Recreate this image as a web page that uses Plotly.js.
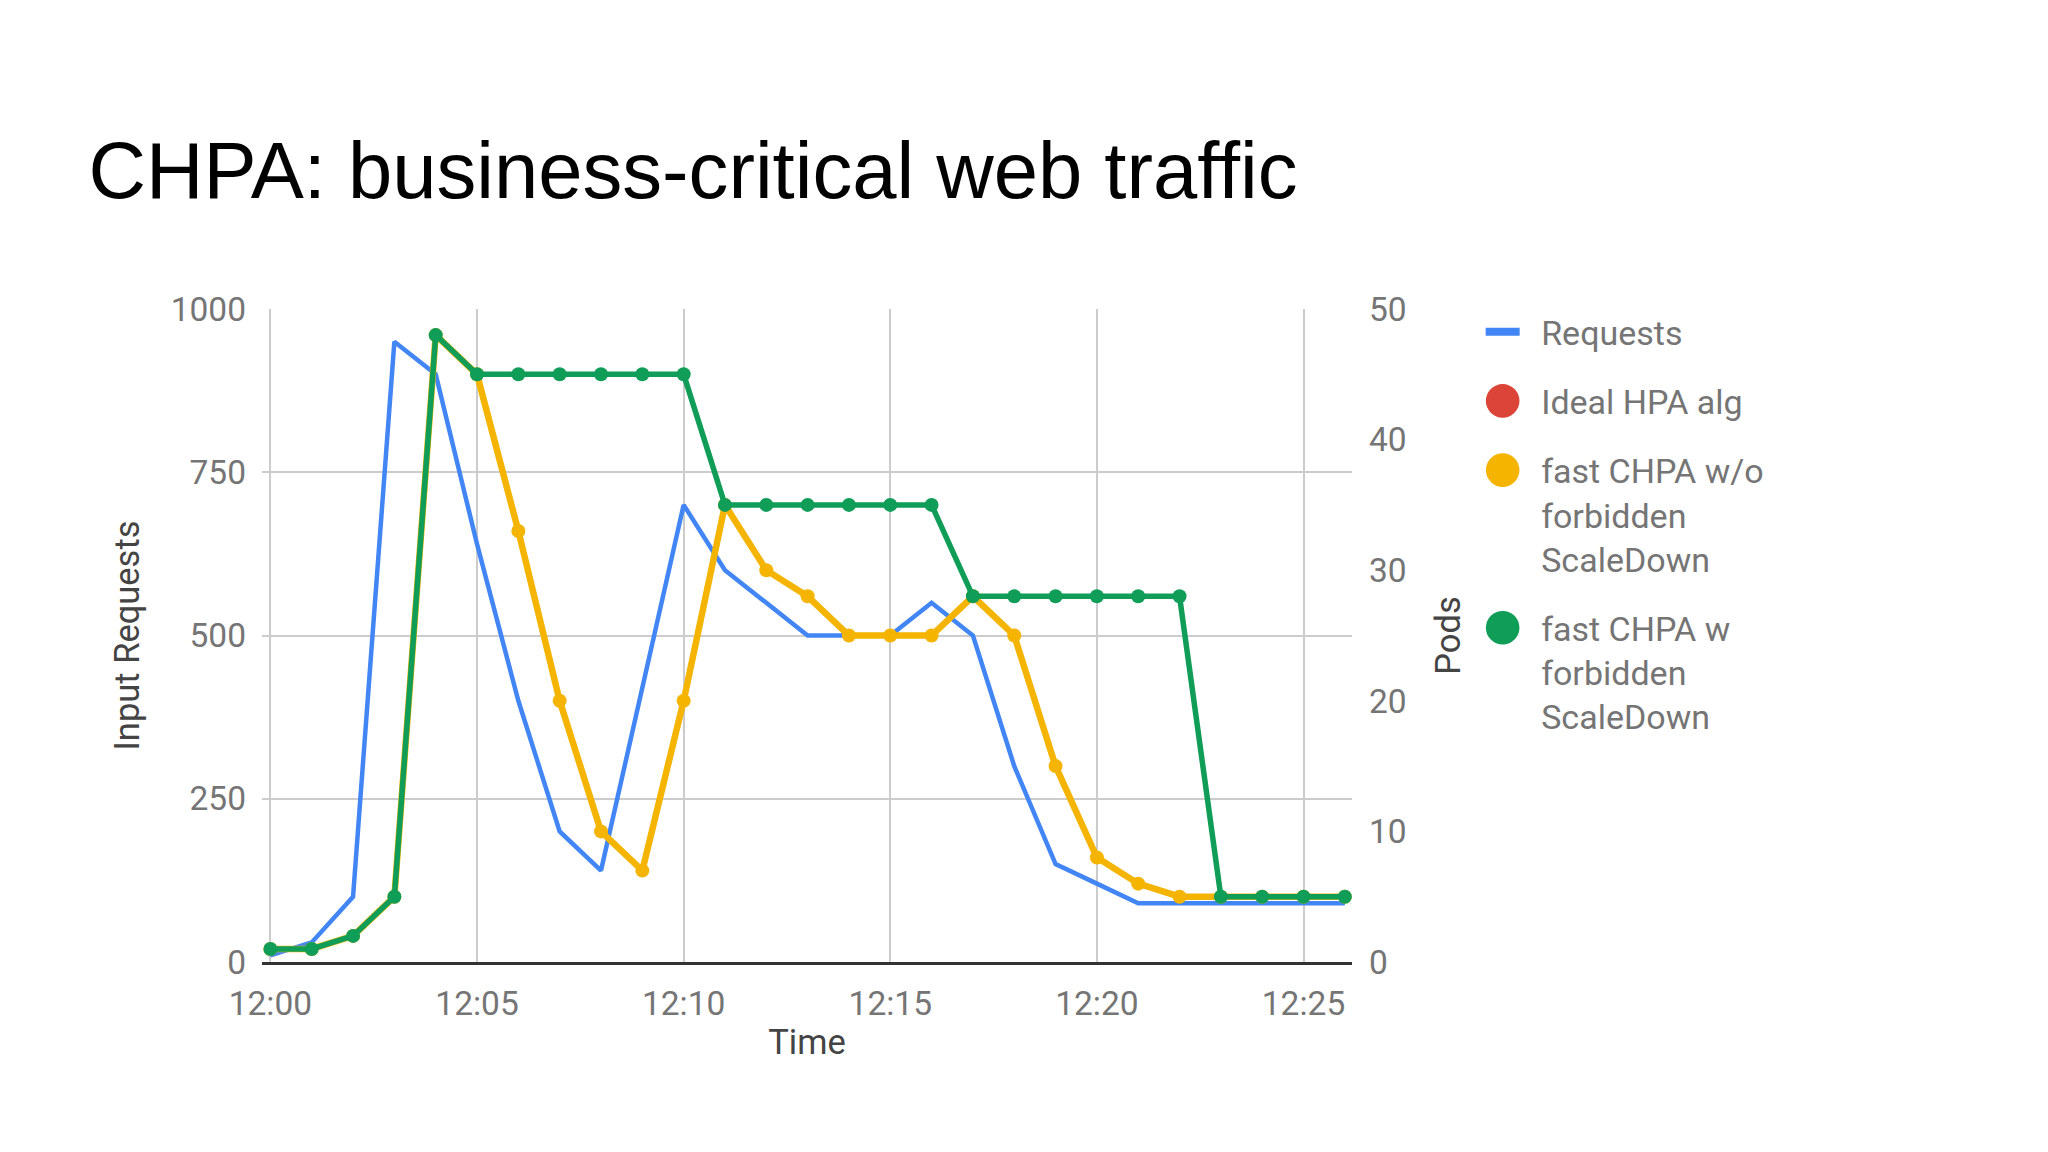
<!DOCTYPE html>
<html>
<head>
<meta charset="utf-8">
<script src="https://cdn.plot.ly/plotly-3.0.1.min.js"></script>
<style>
  html, body { margin: 0; padding: 0; background: #ffffff; }
  #chart { width: 2048px; height: 1152px; }
</style>
</head>
<body>
<div id="chart"></div>
<script>
// ---- Data ----
const times = ['12:00','12:01','12:02','12:03','12:04','12:05','12:06','12:07','12:08','12:09',
               '12:10','12:11','12:12','12:13','12:14','12:15','12:16','12:17','12:18','12:19',
               '12:20','12:21','12:22','12:23','12:24','12:25','12:26'];
// Input requests (left axis)
const requests = [10, 30, 100, 950, 900, 640, 400, 200, 140, 420,
                  700, 600, 550, 500, 500, 500, 550, 500, 300, 150,
                  120, 90, 90, 90, 90, 90, 90];
// Pods, fast CHPA without forbidden ScaleDown (right axis)
const podsFastNoForbid = [1, 1, 2, 5, 48, 45, 33, 20, 10, 7,
                          20, 35, 30, 28, 25, 25, 25, 28, 25, 15,
                          8, 6, 5, 5, 5, 5, 5];
// Pods, fast CHPA with forbidden ScaleDown (right axis)
const podsFastForbid = [1, 1, 2, 5, 48, 45, 45, 45, 45, 45,
                        45, 35, 35, 35, 35, 35, 35, 28, 28, 28,
                        28, 28, 28, 5, 5, 5, 5];
const seriesNames = ['Requests', 'Ideal HPA alg',
                     'fast CHPA w/o<br>forbidden<br>ScaleDown',
                     'fast CHPA w<br>forbidden<br>ScaleDown'];
const xTickLabels = ['12:00','12:05','12:10','12:15','12:20','12:25'];

// ---- Build ----
const day = '2024-01-01 ';
const x = times.map(t => day + t);
const tickVals = xTickLabels.map(t => day + t);

const BLUE = '#4285F4', RED = '#DB4437', YELLOW = '#F4B400', GREEN = '#0F9D58';

const traces = [
  { x: x, y: requests, type: 'scatter', mode: 'lines', yaxis: 'y', showlegend: false,
    line: { color: BLUE, width: 4.5 }, cliponaxis: false, hoverinfo: 'skip' },
  { x: x, y: podsFastNoForbid, type: 'scatter', mode: 'lines+markers', yaxis: 'y2', showlegend: false,
    line: { color: YELLOW, width: 6.5 }, marker: { color: YELLOW, size: 14 }, cliponaxis: false, hoverinfo: 'skip' },
  { x: x, y: podsFastForbid, type: 'scatter', mode: 'lines+markers', yaxis: 'y2', showlegend: false,
    line: { color: GREEN, width: 5.5 }, marker: { color: GREEN, size: 14 }, cliponaxis: false, hoverinfo: 'skip' },
  // legend entries
  { x: [null], y: [null], type: 'scatter', mode: 'lines', name: seriesNames[0], legendgroup: 'a',
    line: { color: BLUE, width: 8 } },
  { x: [null], y: [null], type: 'scatter', mode: 'markers', name: seriesNames[1], legendgroup: 'b',
    marker: { color: RED, size: 16, line: { width: 0 } } },
  { x: [null], y: [null], type: 'scatter', mode: 'markers', name: seriesNames[2], legendgroup: 'c',
    marker: { color: YELLOW, size: 16, line: { width: 0 } }, yaxis: 'y2' },
  { x: [null], y: [null], type: 'scatter', mode: 'markers', name: seriesNames[3], legendgroup: 'd',
    marker: { color: GREEN, size: 16, line: { width: 0 } }, yaxis: 'y2' }
];

const tickFont = { family: 'Roboto, sans-serif', size: 33.5, color: '#757575' };
const titleFont = { family: 'Roboto, sans-serif', size: 34.5, color: '#444444' };

const layout = {
  width: 2048, height: 1152,
  paper_bgcolor: '#ffffff', plot_bgcolor: '#ffffff',
  margin: { l: 262, r: 696, t: 309, b: 190, pad: 0 },
  title: {
    text: 'CHPA: business-critical web traffic',
    font: { family: 'Liberation Sans, Arial, sans-serif', size: 79.6, color: '#000000' },
    xref: 'container', yref: 'container',
    x: 88.5 / 2048, xanchor: 'left',
    y: 1 - 170 / 1152, yanchor: 'middle'
  },
  showlegend: true,
  legend: {
    x: 1.1029, xanchor: 'left', y: 1.009, yanchor: 'top',
    font: { family: 'Roboto, sans-serif', size: 34, color: '#757575' },
    traceorder: 'grouped', tracegroupgap: 22, valign: 'top',
    bgcolor: 'rgba(0,0,0,0)', borderwidth: 0, itemwidth: 67
  },
  xaxis: {
    type: 'date',
    range: [day + '11:59:47.8', day + '12:26:10.4'],
    tickvals: tickVals, ticktext: xTickLabels,
    showgrid: true, gridcolor: '#cccccc', gridwidth: 2,
    showline: true, linecolor: '#333333', linewidth: 3,
    zeroline: false, ticks: '', ticklabelstandoff: 10,
    tickfont: tickFont,
    title: { text: 'Time', font: titleFont, standoff: 8 }
  },
  yaxis: {
    range: [0, 1000], tickvals: [0, 250, 500, 750, 1000],
    showgrid: true, gridcolor: '#cccccc', gridwidth: 2,
    zeroline: false, showline: false, ticks: '', ticklabelstandoff: 15,
    tickfont: tickFont,
    title: { text: 'Input Requests', font: titleFont, standoff: 20 }
  },
  yaxis2: {
    range: [0, 50], tickvals: [0, 10, 20, 30, 40, 50],
    overlaying: 'y', side: 'right',
    showgrid: false, zeroline: false, showline: false, ticks: '', ticklabelstandoff: 16,
    tickfont: tickFont,
    title: { text: 'Pods', font: titleFont, standoff: 30 }
  }
};

Plotly.newPlot('chart', traces, layout, { displayModeBar: false, staticPlot: true }).then(gd => {
  // enlarge legend circles
  gd.querySelectorAll('.legend .legendpoints path.scatterpts').forEach(p => {
    const t = p.getAttribute('transform') || '';
    p.setAttribute('transform', t + ' scale(2.1)');
  });
  // shorten the legend line swatch to a short bar
  gd.querySelectorAll('.legend .legendlines path').forEach(p => {
    const bb = p.getBBox();
    if (bb.width > 0) {
      const s = 34 / bb.width;
      const cx = bb.x + bb.width / 2;
      p.setAttribute('transform', 'translate(' + (cx * (1 - s)) + ',0) scale(' + s + ',1)');
    }
  });
});
</script>
</body>
</html>
